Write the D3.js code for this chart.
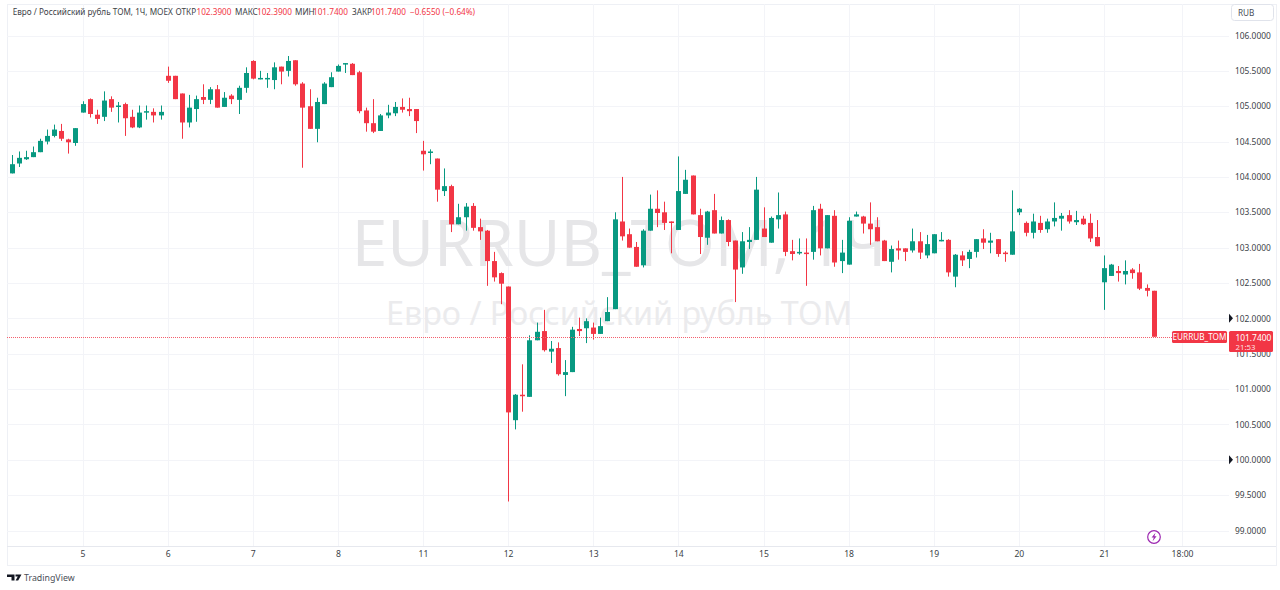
<!DOCTYPE html>
<html><head><meta charset="utf-8">
<script src="https://cdn.jsdelivr.net/npm/d3@7"></script>
<style>
html,body{margin:0;padding:0;background:#fff;overflow:hidden}
svg{display:block}
text{font-family:"Noto Sans","Open Sans",sans-serif}
</style></head><body><div id="c"></div>
<script>
const opens=[104.05,104.19,104.25,104.28,104.35,104.50,104.58,104.65,104.53,104.48,104.91,105.10,104.88,104.85,105.10,105.00,105.03,104.85,104.70,104.91,104.92,104.87,
105.43,105.43,105.18,104.77,104.96,105.13,105.09,105.24,104.99,105.15,105.09,105.26,105.64,105.38,105.38,105.37,105.56,105.50,105.65,105.32,105.00,104.68,105.03,105.27,105.49,105.59,105.60,105.48,104.94,104.76,104.65,104.87,104.90,104.99,104.96,104.96,
104.37,104.34,104.26,103.80,103.87,103.33,103.43,103.59,103.29,103.24,102.81,102.64,102.45,100.56,100.92,100.89,101.69,101.82,101.53,101.58,101.20,101.24,101.85,101.86,101.87,101.78,101.96,102.13,
103.37,103.19,103.01,102.75,103.24,103.55,103.50,103.37,103.25,103.76,104.02,103.46,103.14,103.53,103.20,103.39,103.10,102.72,103.08,103.11,103.27,103.07,103.40,103.47,102.95,102.93,102.93,102.94,103.55,102.99,103.45,102.81,102.76,103.44,103.44,103.34,103.29,103.10,102.80,102.99,102.99,102.96,103.09,102.89,102.92,103.09,103.11,102.59,102.89,102.84,102.94,103.13,103.07,103.12,102.93,102.90,
103.50,103.35,103.21,103.35,103.26,103.37,103.41,103.46,103.36,103.41,103.35,103.15,102.51,102.60,102.67,102.62,102.69,102.65,102.43,102.39];
const highs=[104.31,104.36,104.37,104.43,104.54,104.67,104.74,104.75,104.54,104.69,105.07,105.11,104.95,105.21,105.14,105.06,105.05,104.95,105.01,105.01,104.97,105.01,
105.56,105.43,105.18,105.16,105.15,105.31,105.27,105.30,105.20,105.17,105.29,105.55,105.65,105.50,105.47,105.62,105.56,105.71,105.65,105.34,105.24,105.12,105.34,105.48,105.59,105.61,105.61,105.50,104.98,105.10,104.89,105.02,105.06,105.11,105.12,104.96,
104.51,104.39,104.26,104.12,103.89,103.62,103.63,103.63,103.41,103.25,102.94,102.65,102.45,100.93,101.35,101.76,101.94,102.12,101.68,101.66,101.41,101.88,102.01,102.00,101.94,102.01,102.30,103.50,
104.00,103.27,103.08,103.26,103.75,103.81,103.65,103.37,104.29,104.10,104.02,103.55,103.52,103.76,103.44,103.40,103.10,103.22,103.29,104.00,103.57,103.44,103.78,103.51,103.11,103.13,103.13,103.59,103.62,103.46,103.53,103.11,103.43,103.51,103.45,103.64,103.43,103.11,103.03,103.10,102.99,103.27,103.22,103.18,103.19,103.22,103.12,102.91,102.95,102.97,103.12,103.26,103.21,103.12,102.95,103.81,
103.56,103.37,103.48,103.45,103.41,103.64,103.49,103.53,103.52,103.45,103.48,103.39,102.89,102.77,102.74,102.82,102.71,102.77,102.48,102.39];
const lows=[104.05,104.14,104.24,104.28,104.35,104.46,104.56,104.51,104.33,104.44,104.91,104.84,104.75,104.79,104.92,104.77,104.58,104.69,104.69,104.81,104.77,104.81,
105.33,105.10,104.54,104.70,104.78,105.03,105.03,104.98,104.99,105.03,104.89,105.19,105.38,105.38,105.26,105.24,105.31,105.42,105.29,104.13,104.68,104.49,105.03,105.27,105.49,105.47,105.44,104.90,104.64,104.62,104.65,104.83,104.86,104.91,104.86,104.62,
104.09,104.18,103.65,103.73,103.22,103.33,103.24,103.24,103.11,102.46,102.52,102.20,99.41,100.43,100.68,100.89,101.69,101.53,101.37,101.19,100.90,101.24,101.75,101.65,101.70,101.78,101.96,102.13,
103.10,103.00,102.73,102.72,103.24,103.29,103.25,102.92,103.25,103.76,103.47,102.91,103.04,103.20,103.20,103.02,102.23,102.63,102.98,103.11,103.15,103.07,103.27,102.88,102.82,102.90,102.46,102.83,102.89,102.99,102.73,102.64,102.76,103.44,103.20,103.04,103.09,102.81,102.65,102.83,102.81,102.93,102.84,102.85,102.92,103.09,102.59,102.44,102.74,102.71,102.86,102.98,102.92,102.87,102.80,102.90,
103.46,103.16,103.13,103.21,103.21,103.30,103.24,103.34,103.32,103.32,103.08,103.02,102.12,102.60,102.52,102.48,102.56,102.40,102.31,101.74];
const closes=[104.18,104.27,104.28,104.35,104.51,104.58,104.67,104.54,104.49,104.69,105.03,104.89,104.82,105.08,104.98,105.01,104.83,104.70,104.91,104.93,104.87,104.92,
105.36,105.10,104.77,104.98,105.10,105.09,105.24,104.98,105.12,105.10,105.26,105.47,105.39,105.40,105.40,105.55,105.49,105.64,105.31,104.98,104.68,105.06,105.32,105.41,105.57,105.61,105.44,104.93,104.76,104.64,104.87,104.91,104.99,104.95,104.93,104.79,
104.32,104.36,103.82,103.87,103.33,103.43,103.58,103.28,103.23,102.81,102.58,102.49,100.67,100.92,100.90,101.69,101.81,101.55,101.57,101.21,101.24,101.84,101.82,101.96,101.78,101.89,102.09,103.40,
103.16,103.00,102.73,103.24,103.55,103.49,103.35,103.35,103.80,103.96,103.47,103.15,103.51,103.20,103.39,103.08,102.69,103.09,103.11,103.82,103.15,103.42,103.46,102.94,102.91,102.94,102.91,103.53,102.99,103.46,102.79,102.93,103.38,103.47,103.34,103.26,103.09,102.81,102.98,102.96,102.94,103.09,102.93,103.05,103.19,103.11,102.65,102.90,102.82,102.94,103.12,103.07,103.10,102.91,102.91,103.23,
103.55,103.21,103.37,103.25,103.37,103.42,103.45,103.37,103.39,103.33,103.13,103.02,102.71,102.76,102.64,102.67,102.64,102.42,102.39,101.74];
const priceTicks=[99,99.5,100,100.5,101,101.5,102,102.5,103,103.5,104,104.5,105,105.5,106];
const dayIndex=[10,22,34,46,58,70,82,94,106,118,130,142,154,165];
const dayLabels=["5","6","7","8","11","12","13","14","15","18","19","20","21","18:00"];
const scaleMarks=[100,102];
const lastPrice=101.74;
const legendTexts=["Евро / Российский рубль ТОМ, 1Ч, MOEX","ОТКР","102.3900","МАКС","102.3900","МИН","101.7400","ЗАКР","101.7400","−0.6550 (−0.64%)"];
const W=1280,H=590,L=7,R=1276,T=4,B=546,AB=565;
const x=d3.scaleLinear().domain([10,154]).range([82.5,1104]);
const y=d3.scaleLinear().domain([99,106]).range([530.5,35.5]);
const svg=d3.select("#c").append("svg").attr("width",W).attr("height",H);
svg.append("rect").attr("x",L+.5).attr("y",T+.5).attr("width",R-L).attr("height",AB-T).attr("fill","#fff").attr("stroke","#eef0f5");
const grid=svg.append("g").attr("stroke","#f3f4f8").attr("stroke-width",1);
grid.selectAll(".h").data(priceTicks).join("line").attr("x1",L).attr("x2",1229).attr("y1",d=>Math.round(y(d))+.5).attr("y2",d=>Math.round(y(d))+.5);
grid.selectAll(".v").data(dayIndex).join("line").attr("x1",d=>Math.round(x(d))+.5).attr("x2",d=>Math.round(x(d))+.5).attr("y1",T).attr("y2",B);
svg.append("line").attr("x1",L).attr("x2",R).attr("y1",B+.5).attr("y2",B+.5).attr("stroke","#e6e8ee");
svg.append("text").attr("x",619).attr("y",266).attr("text-anchor","middle").attr("font-size",64).attr("fill","#e6e6e8").text("EURRUB_TOM, 1Ч");
svg.append("text").attr("x",619).attr("y",325).attr("text-anchor","middle").attr("font-size",32.3).attr("fill","#ebebed").text("Евро / Российский рубль ТОМ");
const red="#f23645",green="#089981";
const col=i=>closes[i]>=opens[i]?green:red;
const idx=d3.range(opens.length);
const g=svg.append("g");
g.selectAll("line").data(idx).join("line")
 .attr("x1",i=>Math.round(x(i))+.5).attr("x2",i=>Math.round(x(i))+.5)
 .attr("y1",i=>y(highs[i])).attr("y2",i=>y(lows[i])).attr("stroke",col).attr("stroke-width",1);
g.selectAll("rect").data(idx).join("rect")
 .attr("x",i=>Math.round(x(i))-2).attr("width",5)
 .attr("y",i=>y(Math.max(opens[i],closes[i])))
 .attr("height",i=>Math.max(1.5,Math.abs(y(opens[i])-y(closes[i])))).attr("fill",col);
svg.append("line").attr("x1",L).attr("x2",1172).attr("y1",Math.round(y(lastPrice))+.5).attr("y2",Math.round(y(lastPrice))+.5).attr("stroke","#f4606e").attr("stroke-width",1).attr("stroke-dasharray","1 1");
const ya=svg.append("g").attr("transform","translate(1229,0)").call(d3.axisRight(y).tickValues(priceTicks).tickFormat(d=>d.toFixed(4)).tickSize(0).tickPadding(6));
ya.select(".domain").remove();
ya.selectAll("text").attr("font-size",8.4).attr("fill","#3c3f47").style("font-family",'"Noto Sans"');
const xa=svg.append("g").attr("transform",`translate(0,${B})`).call(d3.axisBottom(x).tickValues(dayIndex).tickFormat((d,i)=>dayLabels[i]).tickSize(0).tickPadding(5));
xa.select(".domain").remove();
xa.selectAll("text").attr("font-size",8.6).attr("fill","#3c3f47").style("font-family",'"Noto Sans"');
svg.selectAll(".mk").data(scaleMarks).join("path").attr("d",d=>`M1229 ${y(d)-4.5}L1233 ${y(d)}L1229 ${y(d)+4.5}Z`).attr("fill","#131722");
svg.append("rect").attr("x",1172).attr("y",331).attr("width",55).attr("height",12).attr("rx",1.5).attr("fill",red);
svg.append("text").attr("x",1199.5).attr("y",340).attr("text-anchor","middle").attr("font-size",8.2).attr("fill","#fff").text("EURRUB_TOM");
svg.append("rect").attr("x",1229).attr("y",331).attr("width",44).attr("height",21).attr("rx",1.5).attr("fill",red);
svg.append("text").attr("x",1235.5).attr("y",340.5).attr("font-size",8.4).attr("fill","#fff").text(lastPrice.toFixed(4));
svg.append("text").attr("x",1235.5).attr("y",349.5).attr("font-size",7.8).attr("fill","#fff").attr("fill-opacity",.85).text("21:53");
const legendX=[12.7,175.5,196.5,235,257,295,313,352,371,410];
const legendCol=["#3c3f47","#3c3f47",red,"#3c3f47",red,"#3c3f47",red,"#3c3f47",red,red];
svg.append("g").selectAll("text").data(legendTexts).join("text").attr("x",(d,i)=>legendX[i]).attr("y",14.5).attr("font-size",8.2).attr("fill",(d,i)=>legendCol[i]).text(d=>d);
svg.append("rect").attr("x",1231.5).attr("y",4.5).attr("width",42).attr("height",16).attr("rx",3).attr("fill","#fff").attr("stroke","#e0e3eb");
svg.append("text").attr("x",1238).attr("y",15.5).attr("font-size",8.2).attr("fill","#4a4e57").text("RUB");
svg.append("circle").attr("cx",1154).attr("cy",537).attr("r",6.3).attr("fill","#fff").attr("stroke","#9c27b0").attr("stroke-width",1.2);
svg.append("path").attr("d","M1155.5 532.8L1151.6 537.6H1153.8L1152.6 541.2L1156.6 536.2H1154.4Z").attr("fill","#9c27b0");
svg.append("path").attr("d","M7 574.5H14.5V580.5H11.5V577H7ZM15.5 574.5H21.5L18.2 580.5H15.6L17.8 576.4H15.5Z").attr("fill","#131722");
svg.append("text").attr("x",24).attr("y",580.5).attr("font-size",8.8).attr("fill","#4a4e57").text("TradingView");
</script></body></html>
